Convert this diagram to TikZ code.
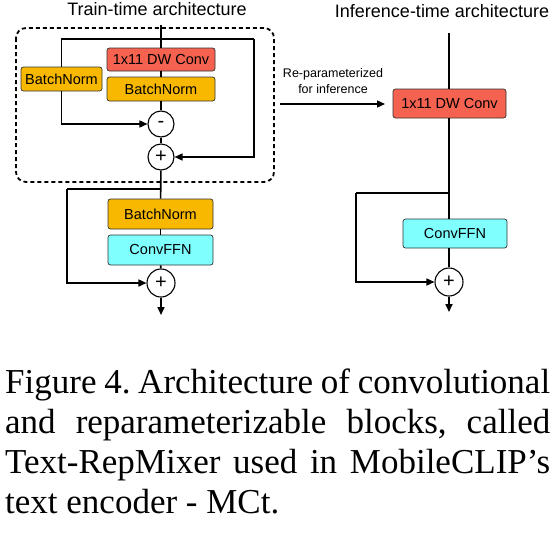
\documentclass[tikz,border=0pt]{standalone}
\usepackage{fontspec}
\setmainfont{Liberation Serif}
\setsansfont{Liberation Sans}
\usetikzlibrary{arrows.meta,positioning}

\definecolor{convred}{RGB}{246,98,80}
\definecolor{bnorange}{RGB}{248,184,0}
\definecolor{ffncyan}{RGB}{128,255,255}

\tikzset{
  block/.style={draw=black!80, line width=0.7pt, rounded corners=2.5pt, inner sep=0pt,
    font=\sffamily\fontsize{14.5}{16}\selectfont},
  opnode/.style={draw, circle, line width=1.1pt, minimum size=26pt, inner sep=0pt,
    font=\sffamily\fontsize{20}{20}\selectfont},
  flow/.style={line width=1.6pt},
  arr/.style={flow, -{Triangle[length=8pt,width=7pt]}},
  title/.style={font=\sffamily\fontsize{18}{20}\selectfont, inner sep=0pt},
}

\begin{document}
\begin{tikzpicture}[x=1pt,y=-1pt]
  \useasboundingbox (0,0) rectangle (556,536);

  % Train-time architecture
  \node[title] (ttitle) at (157,9) {Train-time architecture};
  \draw[line width=1.8pt, dash pattern=on 4pt off 3pt, rounded corners=10pt]
    (16,28) rectangle (274,182);

  \coordinate (inL) at (161,25);
  \coordinate (skipL) at (161,39);
  \coordinate (skipR) at (254,39);
  \node[block, fill=convred, minimum width=108pt, minimum height=23pt] (dwL) at (161,59.5) {1x11 DW Conv};
  \node[block, fill=bnorange, minimum width=108pt, minimum height=24pt] (bnB) at (161,89) {BatchNorm};
  \node[block, fill=bnorange, minimum width=81pt, minimum height=24pt] (bnA) at (61.5,79) {BatchNorm};
  \node[opnode, minimum size=26pt] (minus) at (161,124) {-};
  \node[opnode, minimum size=26pt] (plusA) at (161,157) {+};

  \draw[flow] (inL) -- (dwL.north);
  \draw[flow] (dwL) -- (bnB);
  \draw[flow] (bnB) -- (minus);
  \draw[flow] (minus) -- (plusA);
  \draw[flow] (skipL) -| (bnA.north);
  \draw[arr] (bnA.south) |- (minus.west);
  \draw[flow] (skipL) -- (skipR);
  \draw[arr] (skipR) |- (plusA.east);

  % below the box
  \coordinate (brL) at (161,189);
  \coordinate (brLleft) at (67,189);
  \coordinate (outL) at (161,315);
  \node[block, fill=bnorange, minimum width=105pt, minimum height=30pt] (bnC) at (160.5,214) {BatchNorm};
  \node[block, fill=ffncyan, minimum width=105pt, minimum height=30pt] (ffnL) at (160.5,250) {ConvFFN};
  \node[opnode, minimum size=28pt] (plusB) at (161,283) {+};

  \draw[flow] (plusA) -- (bnC);
  \draw[flow] (bnC) -- (ffnL);
  \draw[flow] (ffnL) -- (plusB);
  \draw[flow] (brL) -- (brLleft);
  \draw[arr] (brLleft) |- (plusB.west);
  \draw[arr] (plusB) -- (outL);

  % Re-parameterized
  \node[font=\sffamily\fontsize{12.5}{16}\selectfont, align=center, inner sep=0pt] (reptext) at (333,81)
    {Re-parameterized\\for inference};
  \coordinate (repstart) at (280,104);
  \draw[arr, line width=1.3pt, shorten >=8pt] (repstart) -- (repstart -| 393,0);

  % Inference-time architecture
  \node[title] (ititle) at (442,11) {Inference-time architecture};
  \coordinate (inR) at (449,33);
  \coordinate (brR) at (449,193);
  \coordinate (brRleft) at (356,193);
  \coordinate (outR) at (449,312);
  \node[block, fill=convred, minimum width=113pt, minimum height=29pt] (dwR) at (449.5,103.5) {1x11 DW Conv};
  \node[block, fill=ffncyan, minimum width=104pt, minimum height=29pt] (ffnR) at (455,233.5) {ConvFFN};
  \node[opnode, minimum size=28pt] (plusR) at (449,282) {+};

  \draw[flow] (inR) -- (dwR.north -| inR);
  \draw[flow] (dwR.south -| inR) -- (ffnR.north -| inR);
  \draw[flow] (ffnR.south -| inR) -- (plusR);
  \draw[flow] (brR) -- (brRleft);
  \draw[arr] (brRleft) |- (plusR.west);
  \draw[arr] (plusR) -- (outR);

  % caption
  \node[anchor=north west, text width=545pt, align=justify, inner sep=0pt,
    font=\fontsize{35}{40}\selectfont\frenchspacing] (caption) at (5,369)
    {Figure 4. Architecture of convolutional\linebreak and reparameterizable blocks, called\linebreak Text-RepMixer used in MobileCLIP’s\linebreak text encoder - MCt.};
\end{tikzpicture}
\end{document}
